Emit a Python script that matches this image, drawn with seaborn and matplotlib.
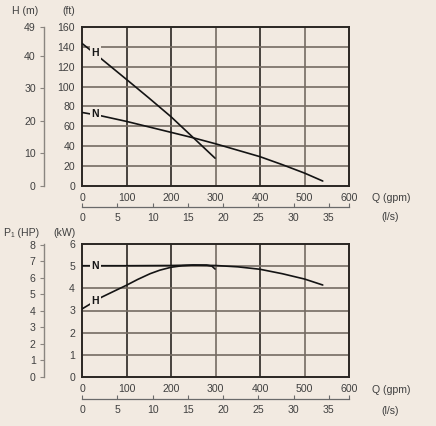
import seaborn as sns
import matplotlib.pyplot as plt

# flow axis (gpm) and the two pump curves, head in ft
h_flow = [0, 42, 102, 150, 200, 254, 299]
h_head = [143.5, 128.5, 106.5, 88.7, 69.7, 47, 28]
n_flow = [0, 42, 100, 200, 250, 300, 350, 400, 450, 500, 541]
n_head = [74, 70.7, 65, 54, 48.5, 42.5, 36, 29.5, 21.5, 13, 5]

# power input P1 in kW, bottom chart
hp_flow = [0, 44, 75, 100, 125, 153, 175, 200, 225, 250, 280, 292, 299]
hp_kw = [3.07, 3.6, 3.9, 4.14, 4.4, 4.66, 4.82, 4.95, 5.02, 5.05, 5.05, 5.0, 4.87]
np_flow = [0, 100, 200, 250, 300, 350, 400, 450, 500, 541]
np_kw = [5.02, 5.02, 5.03, 5.05, 5.03, 4.97, 4.86, 4.66, 4.42, 4.15]

gpm_ticks = [0, 100, 200, 300, 400, 500, 600]
ls_ticks = [0, 5, 10, 15, 20, 25, 30, 35]
ft_ticks = [0, 20, 40, 60, 80, 100, 120, 140, 160]
m_ticks = [0, 10, 20, 30, 40]
kw_ticks = [0, 1, 2, 3, 4, 5, 6]
hp_ticks = [0, 1, 2, 3, 4, 5, 6, 7, 8]

GPM_TO_LS = 0.0630902
FT_TO_M = 0.3048
KW_TO_HP = 1 / 0.7457

BG = '#f2eae1'
TXT = '#404040'
LINE = '#141414'
DARK = '#2a2622'
GREY = '#756b62'
FS = 7.6

sns.set_style('white', {'axes.facecolor': BG, 'figure.facecolor': BG})
plt.rcParams['font.family'] = ['Liberation Sans', 'DejaVu Sans']
plt.rcParams['font.size'] = FS

fig = plt.figure(figsize=(4.36, 4.26), dpi=100)
W, H = 436, 426
ax_top = fig.add_axes([82 / W, 1 - 186 / H, 267 / W, 159 / H])
ax_bot = fig.add_axes([82 / W, 1 - 377 / H, 267 / W, 133 / H])


def style_panel(ax, yticks, ls_loc):
    ax.set_xlim(0, 600)
    ax.set_ylim(yticks[0], yticks[-1])
    ax.set_xticks(gpm_ticks)
    ax.set_yticks(yticks)
    ax.tick_params(length=0, labelcolor=TXT, labelsize=FS)
    ax.tick_params(axis='x', pad=5)
    ax.tick_params(axis='y', pad=5)
    for s in ax.spines.values():
        s.set_color(DARK)
        s.set_linewidth(1.4)
    # grid lines: some print darker than others in the original
    vcols = {100: DARK, 200: DARK, 300: GREY, 400: DARK, 500: GREY}
    for x, c in vcols.items():
        ax.axvline(x, color=c, lw=1.2, zorder=1)
    for y in yticks[1:-1]:
        ax.axhline(y, color=GREY, lw=1.2, zorder=1)
    ax.set_xlabel('')
    ax.set_ylabel('')

    sec = ax.secondary_xaxis(ls_loc, functions=(lambda q: q * GPM_TO_LS,
                                                lambda l: l / GPM_TO_LS))
    sec.set_xticks(ls_ticks + [600 * GPM_TO_LS],
                   labels=[str(t) for t in ls_ticks] + [''])
    sec.tick_params(direction='in', length=3, width=0.8, color='#6a6a6a',
                    labelcolor=TXT, labelsize=FS, pad=4)
    sec.spines['bottom'].set_color('#6a6a6a')
    sec.spines['bottom'].set_linewidth(0.9)
    return sec


def label_curve(ax, x, y, s):
    ax.text(x, y, s, ha='center', va='center', fontsize=7.5, fontweight='bold',
            color=LINE, zorder=6,
            bbox=dict(fc=BG, ec='none', pad=1.2))


# top: head
style_panel(ax_top, ft_ticks, -0.132)
sns.lineplot(x=h_flow, y=h_head, ax=ax_top, color=LINE, lw=1.2, zorder=4)
sns.lineplot(x=n_flow, y=n_head, ax=ax_top, color=LINE, lw=1.2, zorder=4)
label_curve(ax_top, 30, 134, 'H')
label_curve(ax_top, 30, 72.5, 'N')

sec_m = ax_top.secondary_yaxis(-0.142, functions=(lambda f: f * FT_TO_M,
                                                  lambda m: m / FT_TO_M))
sec_m.set_yticks(m_ticks + [160 * FT_TO_M],
                 labels=[str(t) for t in m_ticks] + ['49'])

# bottom: power input
style_panel(ax_bot, kw_ticks, -0.168)
sns.lineplot(x=np_flow, y=np_kw, ax=ax_bot, color=LINE, lw=1.2, zorder=4)
sns.lineplot(x=hp_flow, y=hp_kw, ax=ax_bot, color=LINE, lw=1.2, zorder=4)
label_curve(ax_bot, 30, 5.02, 'N')
label_curve(ax_bot, 30, 3.43, 'H')

sec_hp = ax_bot.secondary_yaxis(-0.142, functions=(lambda k: k * KW_TO_HP,
                                                   lambda p: p / KW_TO_HP))
sec_hp.set_yticks(hp_ticks, labels=[str(t) for t in hp_ticks])

for sec in (sec_m, sec_hp):
    sec.tick_params(direction='out', length=3, width=0.8, color='#8a8580',
                    labelcolor=TXT, labelsize=FS, pad=3)
    sec.spines['left'].set_color('#8a8580')
    sec.spines['left'].set_linewidth(1.0)


# unit headers
def ftext(x, y, s, ha='center'):
    fig.text(x / W, 1 - y / H, s, ha=ha, va='center', color=TXT, fontsize=FS)


ftext(25, 11, 'H (m)')
ftext(69, 11, '(ft)')
ftext(22, 233, 'P\u2081 (HP)')
ftext(64, 233, '(kW)')
for y_q, y_l in [(198, 217), (390, 411)]:
    ftext(372, y_q, 'Q (gpm)', ha='left')
    ftext(381, y_l, '(l/s)', ha='left')

fig.savefig('out.png', dpi=100, facecolor=BG)
